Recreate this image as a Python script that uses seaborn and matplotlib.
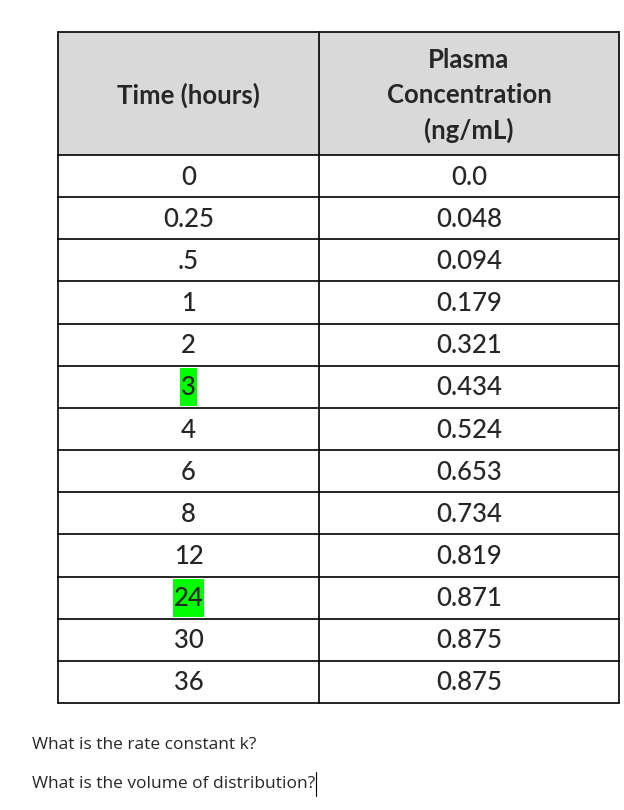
import matplotlib
matplotlib.use("Agg")
import matplotlib.pyplot as plt
import seaborn as sns
from matplotlib.patches import Rectangle

sns.set_style("white")
plt.rcParams['font.family'] = ['Lato', 'DejaVu Sans']

times = ["0", "0.25", ".5", "1", "2", "3", "4", "6", "8", "12", "24", "30", "36"]
conc = ["0.0", "0.048", "0.094", "0.179", "0.321", "0.434", "0.524", "0.653", "0.734", "0.819", "0.871", "0.875", "0.875"]
highlighted = ["3", "24"]
headers = ["Time (hours)", "Plasma\nConcentration\n(ng/mL)"]
questions = ["What is the rate constant k?", "What is the volume of distribution?"]

W, H = 624, 810
fig = plt.figure(figsize=(W/100, H/100), dpi=100)
ax = fig.add_axes([0, 0, 1, 1])
ax.set_xlim(0, W); ax.set_ylim(H, 0); ax.axis('off')

x0, xm, x1 = 58, 319, 619
y0, yh = 32, 155
rh = (703 - yh) / len(times)
y1 = yh + rh * len(times)

ax.add_patch(Rectangle((x0, y0), x1 - x0, yh - y0, facecolor='#d9d9d9', edgecolor='none'))
ax.text((x0 + xm) / 2, (y0 + yh) / 2 + 2, headers[0], ha='center', va='center', fontsize=18.5, fontweight='bold')
ax.text((xm + x1) / 2, (y0 + yh) / 2 + 2, headers[1], ha='center', va='center', fontsize=18.5, fontweight='bold', linespacing=1.55)

fig.canvas.draw()
r = fig.canvas.get_renderer()
for i, (t, c) in enumerate(zip(times, conc)):
    yc = yh + rh * (i + 0.5)
    tt = ax.text((x0 + xm) / 2, yc + 1, t, ha='center', va='center', fontsize=18.5, fontweight='medium', zorder=3)
    ax.text((xm + x1) / 2, yc + 1, c, ha='center', va='center', fontsize=18.5, fontweight='medium', zorder=3)
    if t in highlighted:
        bb = tt.get_window_extent(r)
        ax.add_patch(Rectangle((bb.x0 - 1, yh + rh * i + 2), bb.width + 2, rh - 4,
                               facecolor='#00ff00', edgecolor='none', zorder=2))

lw = 1.2
for k in range(len(times) + 1):
    ax.plot([x0, x1], [yh + rh * k, yh + rh * k], color='black', lw=lw)
ax.plot([x0, x1], [y0, y0], color='black', lw=lw)
for x in (x0, xm, x1):
    ax.plot([x, x], [y0, y1], color='black', lw=lw)

ax.text(32, 745, questions[0], ha='left', va='center', fontsize=12.5, family=['Open Sans', 'DejaVu Sans'])
q = ax.text(32, 784, questions[1], ha='left', va='center', fontsize=12.5, family=['Open Sans', 'DejaVu Sans'])
fig.canvas.draw()
bb = q.get_window_extent(fig.canvas.get_renderer())
ax.plot([bb.x1 + 1, bb.x1 + 1], [772, 796], color='black', lw=0.8)

fig.savefig("out.png", dpi=100)
